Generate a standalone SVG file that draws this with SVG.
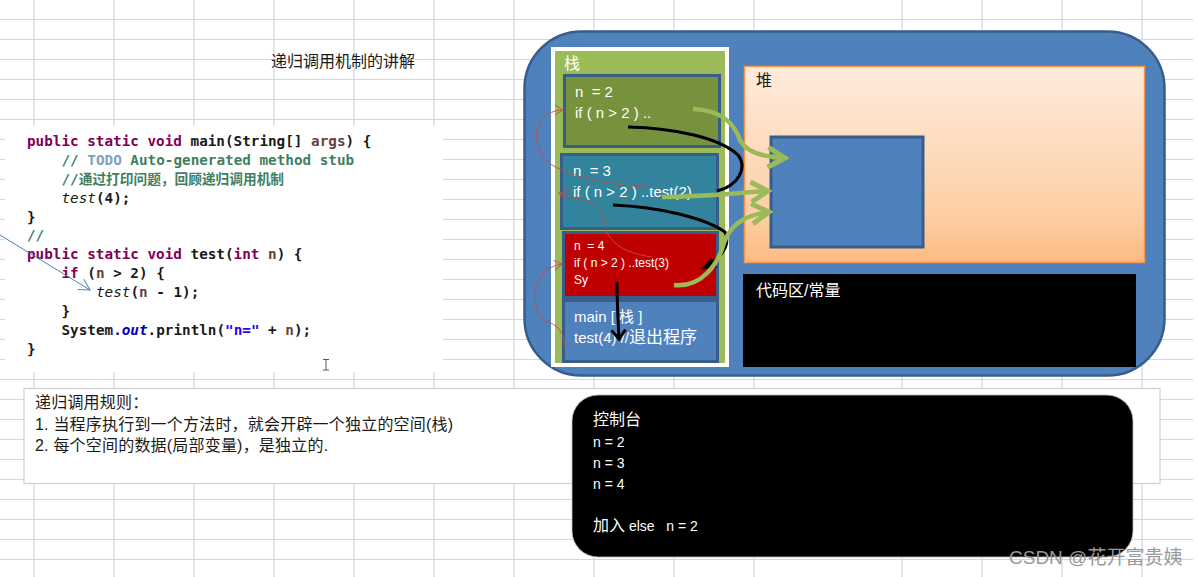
<svg xmlns="http://www.w3.org/2000/svg" width="1197" height="577" viewBox="0 0 1197 577">
<style>
text{font-family:"Liberation Sans","Noto Sans CJK SC",sans-serif;white-space:pre}
.cjk{font-family:"Noto Sans CJK SC","Liberation Sans",sans-serif}
.w{fill:#fff}
.f15{font-size:15px}
.f12{font-size:12px}
.f16{font-size:16px}
.f14{font-size:14px}
.rule{letter-spacing:.2px}
.grid{stroke:#d0d7e5;stroke-width:1.2;fill:none}
.box{stroke:#385d8a;stroke-width:3}
.code{font-family:"DejaVu Sans Mono","Noto Sans CJK SC",monospace;font-size:14.3px;font-weight:700;fill:#1a1a1a}
.k{fill:#7f0055}.v{fill:#6a3e3e}.c{fill:#3f7f5f}.t{fill:#7f9fbf}.o{fill:#0000c0;font-style:italic}.s{fill:#2a00ff}.i{font-style:italic;font-weight:400}
.gr{fill:none;stroke:#9bbb59;stroke-width:4.5}
.bk{fill:none;stroke:#000;stroke-width:3}
.rd{fill:none;stroke:#c0504d;stroke-width:1;opacity:.9}
</style>
<defs>
<linearGradient id="heapFill" x1="0" y1="0" x2="0" y2="1"><stop offset="0" stop-color="#ffebdc"/><stop offset=".75" stop-color="#fdcfa5"/><stop offset="1" stop-color="#fdba82"/></linearGradient>
<marker id="greenHead" markerUnits="userSpaceOnUse" markerWidth="24" markerHeight="28" refX="20" refY="12" orient="auto"><path d="M3 2 L20 12 L3 22" fill="none" stroke="#9bbb59" stroke-width="5"/></marker>
<marker id="redHead" markerUnits="userSpaceOnUse" markerWidth="12" markerHeight="12" refX="9" refY="6" orient="auto"><path d="M1 1 L9 6 L1 11" fill="none" stroke="#c0504d" stroke-width="1"/></marker>
<marker id="blackFill" markerUnits="userSpaceOnUse" markerWidth="16" markerHeight="14" refX="14" refY="7" orient="auto"><path d="M0 1 L14 7 L0 13Z" fill="#000"/></marker>
<marker id="blackOpen" markerUnits="userSpaceOnUse" markerWidth="16" markerHeight="18" refX="10" refY="9" orient="auto"><path d="M1 2 L10 9 L1 16" fill="none" stroke="#000" stroke-width="3"/></marker>
<marker id="blueHead" markerUnits="userSpaceOnUse" markerWidth="14" markerHeight="14" refX="12" refY="7" orient="auto"><path d="M1 1 L12 7 L1 13" fill="none" stroke="#4f81bd" stroke-width="1"/></marker>
</defs>
<rect width="1197" height="577" fill="#fff"/>
<g id="grid" class="grid">
<path d="M0 19.5H1193M0 39.5H1193M0 59.5H1193M0 79.5H1193M0 99.5H1193M0 119.5H1193M0 139.5H1193M0 159.5H1193M0 179.5H1193M0 199.5H1193M0 219.5H1193M0 239.5H1193M0 259.5H1193M0 279.5H1193M0 299.5H1193M0 319.5H1193M0 339.5H1193M0 359.5H1193M0 379.5H1193M0 399.5H1193M0 419.5H1193M0 439.5H1193M0 459.5H1193M0 479.5H1193M0 499.5H1193M0 519.5H1193M0 539.5H1193M0 559.5H1193"/>
<path d="M34 0V577M114 0V577M194 0V577M274 0V577M354 0V577M434 0V577M514 0V577M594 0V577M674 0V577M754 0V577M902 0V577M982 0V577M1062 0V577M1142 0V577"/>
</g>
<g id="title"><text class="cjk f16" x="271" y="67" fill="#1a1a1a">递归调用机制的讲解</text></g>
<g id="code-panel">
<rect x="5" y="126" width="438" height="246" fill="#fff"/>
<text class="code" x="27" y="146"><tspan class="k">public static void</tspan> main(String[] <tspan class="v">args</tspan>) {</text>
<text class="code" x="61.5" y="164.5"><tspan class="c">// </tspan><tspan class="t">TODO</tspan><tspan class="c"> Auto-generated method stub</tspan></text>
<text class="code c" x="61.5" y="183.5">//<tspan font-size="13.7">通过打印问题，回顾递归调用机制</tspan></text>
<text class="code" x="61.5" y="202.5"><tspan class="i">test</tspan>(4);</text>
<text class="code" x="27" y="221.5">}</text>
<text class="code c" x="27" y="240">//</text>
<text class="code" x="27" y="259"><tspan class="k">public static void</tspan> test(<tspan class="k">int</tspan> <tspan class="v">n</tspan>) {</text>
<text class="code" x="61.5" y="278"><tspan class="k">if</tspan> (<tspan class="v">n</tspan> &gt; 2) {</text>
<text class="code" x="96" y="297"><tspan class="i">test</tspan>(<tspan class="v">n</tspan> - 1);</text>
<text class="code" x="61.5" y="316">}</text>
<text class="code" x="61.5" y="335">System.<tspan class="o">out</tspan>.println(<tspan class="s">"n="</tspan> + <tspan class="v">n</tspan>);</text>
<text class="code" x="27" y="354">}</text>
<path d="M323 359.5H329M326 359.5V370M323 370H329" fill="none" stroke="#555" stroke-width="1"/>
</g>
<g id="rules">
<rect x="24" y="388.5" width="1136" height="95" fill="#fff" stroke="#cfcfcf" stroke-width="1.2"/>
<text class="f16 rule" x="35" y="408" fill="#1a1a1a">递归调用规则：</text>
<text class="f16 rule" x="35" y="430" fill="#1a1a1a">1. 当程序执行到一个方法时，就会开辟一个独立的空间(栈)</text>
<text class="f16 rule" x="35" y="451" fill="#1a1a1a">2. 每个空间的数据(局部变量)，是独立的.</text>
</g>
<g id="memory">
<rect x="524.5" y="31.5" width="640" height="344" rx="57" fill="#4f81bd" stroke="#385d8a" stroke-width="2.5"/>
</g>
<g id="stack">
<rect x="553" y="49" width="174" height="316" fill="#9bbb59" stroke="#fff" stroke-width="4"/>
<text class="cjk f16 w" x="564" y="69">栈</text>
</g>
<g id="frame-n2">
<rect class="box" x="564.5" y="75.5" width="155" height="71" fill="#76923c"/>
<text class="f15 w" x="575" y="97">n  = 2</text>
<text class="f15 w" x="575" y="118">if ( n &gt; 2 ) ..</text>
</g>
<g id="frame-n3">
<rect class="box" x="561.5" y="154.5" width="156" height="74" fill="#31849b"/>
<text class="f15 w" x="573" y="176">n  = 3</text>
<text class="f15 w" x="573" y="197">if ( n &gt; 2 ) ..test(2)</text>
</g>
<g id="frame-n4">
<rect class="box" x="563.5" y="232.5" width="154" height="65" fill="#c00000"/>
<text class="f12 w" x="574" y="250">n  = 4</text>
<text class="f12 w" x="574" y="267">if ( n &gt; 2 ) ..test(3)</text>
<text class="f12 w" x="574" y="284">Sy</text>
</g>
<g id="frame-main">
<rect class="box" x="563.5" y="300.5" width="154" height="61" fill="#4f81bd"/>
<text class="f15 w" x="574" y="322">main [ 栈 ]</text>
<text class="f15 w" x="574" y="343">test(4) //<tspan font-size="17">退出程序</tspan></text>
</g>
<g id="heap">
<rect x="744.5" y="66.5" width="400" height="196" fill="url(#heapFill)" stroke="#f79646" stroke-width="1.5"/>
<text class="cjk f16" x="756" y="86" fill="#1a1a1a">堆</text>
</g>
<g id="heap-object">
<rect class="box" x="771" y="137" width="152" height="110" fill="#4f81bd"/>
</g>
<g id="code-area">
<rect x="743" y="274" width="393" height="93" fill="#000"/>
<text class="f16 w" x="756" y="296">代码区/常量</text>
</g>
<g id="console">
<rect x="572" y="395" width="561" height="162" rx="26" fill="#000" stroke="#bbb" stroke-width=".8"/>
<text class="cjk f16 w" x="593" y="425">控制台</text>
<text class="f14 w" x="593" y="447">n = 2</text>
<text class="f14 w" x="593" y="468">n = 3</text>
<text class="f14 w" x="593" y="489">n = 4</text>
<text class="f14 w" x="593" y="531"><tspan font-size="16">加入</tspan> else   n = 2</text>
</g>
<g id="connectors">
<path class="rd" marker-end="url(#redHead)" d="M662 188C610 186 575 178 552 165C538 155 534 140 538 126C542 116 552 110 563 110"/>
<path class="rd" marker-end="url(#redHead)" d="M652 257C630 254 612 246 606 230C604 214 600 206 585 201C575 198 567 195 559 193"/>
<path class="rd" marker-end="url(#redHead)" d="M565 347C564 332 558 325 546 321C534 316 534 295 537 285C541 272 550 266 562 264"/>
<path class="bk" d="M628 127C675 128 720 138 738 155C748 168 738 186 717 191"/>
<path class="bk" marker-end="url(#blackFill)" d="M613 205C660 207 705 218 725 232C731 245 722 258 702 269"/>
<path class="bk" marker-end="url(#blackOpen)" d="M617 282C617 300 618 320 619 339"/>
<path class="gr" marker-end="url(#greenHead)" d="M693 109C722 110 735 125 740 140C746 152 762 157 785 158"/>
<path class="gr" marker-end="url(#greenHead)" d="M662 197C700 197 735 193 768 191"/>
<path class="gr" marker-end="url(#greenHead)" d="M674 285C702 288 718 264 724 243C731 222 750 214 769 212"/>
<path fill="none" stroke="#4f81bd" stroke-width="1" marker-end="url(#blueHead)" d="M0 235L90 290"/>
</g>
<g id="watermark"><text x="1009" y="564" font-size="19" fill="#999">CSDN @花开富贵姨</text></g>
</svg>
